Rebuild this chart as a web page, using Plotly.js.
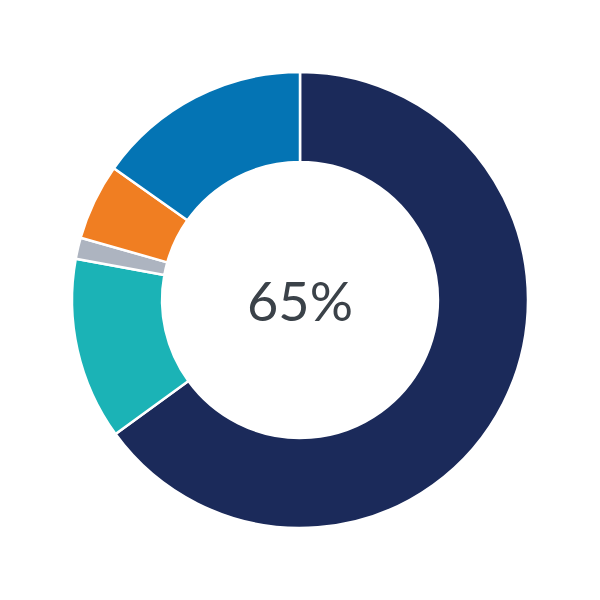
<!DOCTYPE html>
<html><head><meta charset="utf-8">
<script src="https://cdn.plot.ly/plotly-3.0.1.min.js"></script>
<style>html,body{margin:0;padding:0;background:#fff;}#chart{width:600px;height:600px;}</style>
</head><body><div id="chart"></div>
<script>
const labels = ["Navy", "Teal", "Gray", "Orange", "Blue"];
const values = [65, 12.9, 1.5, 5.4, 15.2];
const colors = ["#1b2a5a", "#1bb3b6", "#adb4c0", "#f07e22", "#0474b4"];
const centerText = "65%";

Plotly.newPlot("chart", [{
  type: "pie",
  labels: labels,
  values: values,
  hole: 0.605,
  sort: false,
  direction: "clockwise",
  rotation: 0,
  textinfo: "none",
  hoverinfo: "label+percent",
  marker: {colors: colors, line: {color: "#ffffff", width: 2.5}},
  domain: {x: [0.12, 0.88], y: [0.12, 0.88]},
  showlegend: false
}], {
  width: 600, height: 600,
  margin: {l: 0, r: 0, t: 0, b: 0},
  paper_bgcolor: "#ffffff",
  showlegend: false,
  annotations: [{
    text: centerText, x: 0.5, y: 0.5, xref: "paper", yref: "paper",
    showarrow: false, font: {family: "Lato", size: 54, color: "#3b4249"}
  }]
}, {staticPlot: true});
</script></body></html>
